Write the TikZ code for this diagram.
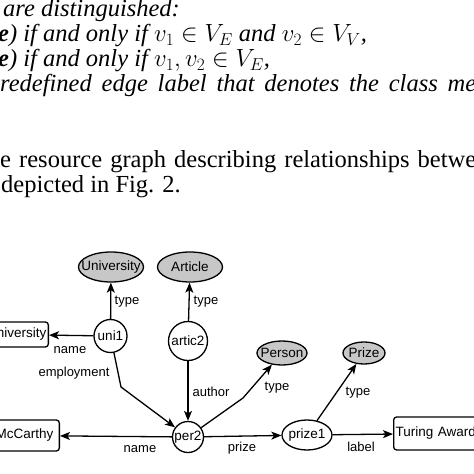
\documentclass[tikz,border=0pt]{standalone}
\usepackage{fontspec}
\setmainfont{Liberation Serif}
\newfontfamily\graphfont{Liberation Sans}
\usetikzlibrary{positioning, arrows.meta, shapes}

\begin{document}
\begin{tikzpicture}[x=1pt, y=-1pt,
    txt/.style={anchor=base west, inner sep=0pt, font=\fontsize{24.5}{24.5}\selectfont},
    gfont/.style={font=\graphfont\fontsize{13.5}{13.5}\selectfont},
    cls/.style={ellipse, draw, fill=black!22, line width=1.3pt, inner xsep=-7pt, inner ysep=-2pt, gfont},
    res/.style={circle, draw, fill=white, line width=1.3pt, inner sep=0pt, gfont},
    lit/.style={rectangle, draw, rounded corners=3pt, line width=1.3pt, inner ysep=0pt, gfont},
    lbl/.style={inner sep=0pt, font=\graphfont\fontsize{13}{13}\selectfont},
    arr/.style={-{Stealth[length=10pt,width=8pt,inset=2.5pt]}, line width=1.3pt}]
    \useasboundingbox (0,0) rectangle (474,474);
    \clip (0,0) rectangle (474,474);

    % Text of the page above the figure
    \node[txt] (line1) at (3,16.5) {\itshape are distinguished:};
    \node[txt] (line2) at (-2,41.5) {\itshape\textbf{e}) if and only if $v_1\in V_E$ and $v_2\in V_V$,};
    \node[txt] (line3) at (-2,66.5) {\itshape\textbf{e}) if and only if $v_1, v_2\in V_E$,};
    \node[txt] (line4) at (0,91) {\makebox[476pt][s]{\itshape redefined edge label that denotes the class me}};
    \node[txt] (line5) at (0,167) {\makebox[476pt][s]{e resource graph describing relationships betwe}};
    \node[txt] (line6) at (1,192) {depicted in Fig. 2.};

    % Draw class nodes
    \node[cls, minimum width=65, minimum height=30] (univ) at (111,267) {University};
    \node[cls, minimum width=65, minimum height=30] (article) at (190,267) {Article};
    \node[cls, minimum width=50, minimum height=24] (person) at (282,353) {Person};
    \node[cls, minimum width=42, minimum height=22] (prize) at (364,353) {Prize};

    % Draw resource nodes
    \node[res, minimum size=33] (uni1) at (110.5,336) {uni1};
    \node[res, minimum size=39] (artic2) at (188,341) {artic2};
    \node[res, minimum size=31] (per2) at (188,437) {per2};
    \node[ellipse, draw, fill=white, line width=1.3pt, inner xsep=-2pt, inner ysep=0pt, gfont,
          minimum width=50, minimum height=30] (prize1) at (307,435) {prize1};

    % Draw literal nodes
    \node[lit, inner xsep=2pt, text width=80, align=right, minimum height=25, anchor=east] (uniname) at (49,334.5) {University};
    \node[lit, inner xsep=6pt, text width=80, align=right, minimum height=31, anchor=east] (mccarthy) at (60,435.5) {McCarthy};
    \node[lit, inner xsep=2pt, text width=90, align=left, minimum height=33, anchor=west] (turing) at (393,433.5) {Turing Award};

    % Draw edges
    \coordinate (bend1) at (121,387);
    \coordinate (bend2) at (243,398);
    \draw[arr] (uni1) -- (univ);
    \draw[arr] (artic2) -- (article);
    \draw[arr] (uni1) -- (uniname);
    \draw[arr] (uni1) -- (bend1) -- (per2);
    \draw[arr] (artic2) -- (per2);
    \draw[arr] (per2) -- (mccarthy);
    \draw[arr] (per2) -- (bend2) -- (person);
    \draw[arr] (per2) -- (prize1);
    \draw[arr] (prize1) -- (prize);
    \draw[arr] (prize1) -- (turing);

    % Edge labels
    \node[lbl] (ltype1) at (127,302) {type};
    \node[lbl] (ltype2) at (206,302) {type};
    \node[lbl] (lname1) at (70,350) {name};
    \node[lbl] (lempl) at (74,373) {employment};
    \node[lbl] (lauthor) at (211,392) {author};
    \node[lbl] (lname2) at (140,449) {name};
    \node[lbl] (ltype3) at (277,388) {type};
    \node[lbl] (lprize) at (242,448) {prize};
    \node[lbl] (ltype4) at (358,393) {type};
    \node[lbl] (llabel) at (361,447) {label};
\end{tikzpicture}
\end{document}
